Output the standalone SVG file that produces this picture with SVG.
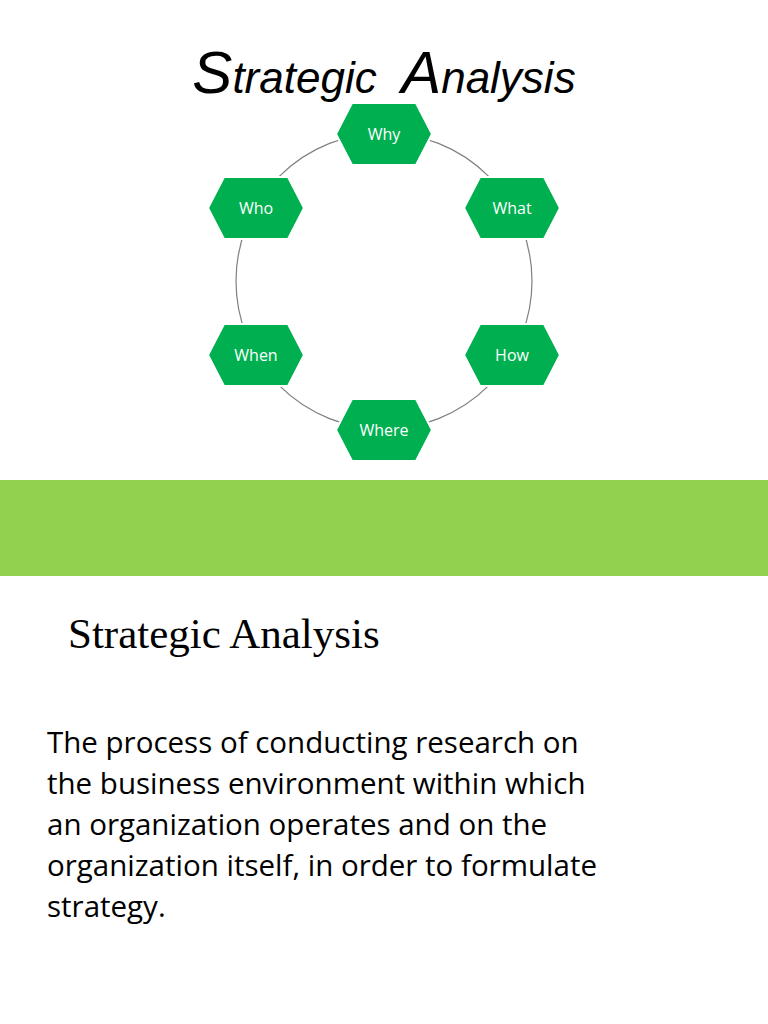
<svg xmlns="http://www.w3.org/2000/svg" width="768" height="1024" viewBox="0 0 768 1024">
<style>
.hex{fill:#00b050;stroke:#fff;stroke-width:2}
.hl{font-family:"Open Sans","Liberation Sans",sans-serif;font-size:16px;fill:#fff;text-anchor:middle}
.body{font-family:"Open Sans","Liberation Sans",sans-serif;font-size:29.5px;fill:#000}
</style>
<rect width="768" height="1024" fill="#fff"/>
<text x="384" y="93" text-anchor="middle" font-family="Liberation Sans,sans-serif" font-style="italic" font-size="44" xml:space="preserve"><tspan font-size="60">S</tspan>trategic  <tspan font-size="60">A</tspan>nalysis</text>
<g id="connectors"><circle cx="384" cy="281" r="148" fill="none" stroke="#7f7f7f" stroke-width="1.2"/></g>
<defs><polygon id="h" points="-48,0 -32,-31 32,-31 48,0 32,31 -32,31"/></defs>
<g id="why"><use href="#h" x="384" y="134" class="hex"/><text class="hl" x="384" y="140">Why</text></g>
<g id="who"><use href="#h" x="256" y="208" class="hex"/><text class="hl" x="256" y="214">Who</text></g>
<g id="what"><use href="#h" x="512" y="208" class="hex"/><text class="hl" x="512" y="214">What</text></g>
<g id="when"><use href="#h" x="256" y="355" class="hex"/><text class="hl" x="256" y="361">When</text></g>
<g id="how"><use href="#h" x="512" y="355" class="hex"/><text class="hl" x="512" y="361">How</text></g>
<g id="where"><use href="#h" x="384" y="430" class="hex"/><text class="hl" x="384" y="436">Where</text></g>
<rect x="0" y="480" width="768" height="96" fill="#92d050"/>
<text x="68" y="648" font-family="Liberation Serif,serif" font-size="43">Strategic Analysis</text>
<text class="body"><tspan x="47" y="753">The process of conducting research on</tspan><tspan x="47" y="794">the business environment within which</tspan><tspan x="47" y="835">an organization operates and on the</tspan><tspan x="47" y="876">organization itself, in order to formulate</tspan><tspan x="47" y="917">strategy.</tspan></text>
</svg>
